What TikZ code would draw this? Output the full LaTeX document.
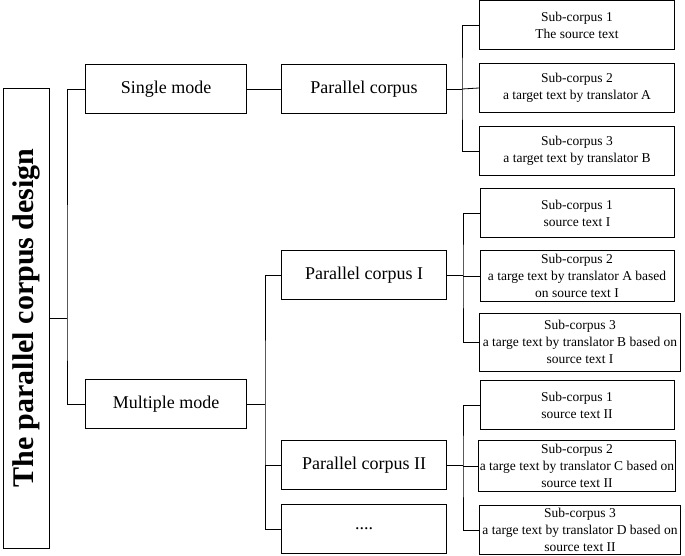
\documentclass[tikz,border=0pt]{standalone}
\usepackage{fontspec}
\setmainfont{Liberation Serif}
\usetikzlibrary{positioning}
\begin{document}
\begin{tikzpicture}[x=1pt,y=-1pt,
    mainbox/.style={draw, thick, minimum width=161pt, minimum height=49pt, font=\fontsize{18}{20}\selectfont},
    subbox/.style={draw, thick, minimum width=#1, minimum height=49pt, align=center, inner sep=1pt, font=\fontsize{13.5}{17}\selectfont},
    link/.style={thick}]
    \useasboundingbox (0,0) rectangle (685,556);

    % Root
    \node[draw, thick, minimum width=460pt, minimum height=46pt, inner sep=1pt, rotate=90, font=\fontsize{30}{32}\bfseries] (root) at (26,318) {The parallel corpus design};

    % Second level
    \node[mainbox] (single) at (166,89) {Single mode};
    \node[mainbox] (multi) at (166,404) {Multiple mode};

    % Third level
    \node[mainbox, minimum width=165pt] (pc) at (364,89) {Parallel corpus};
    \node[mainbox, minimum width=165pt] (pcI) at (364,275) {Parallel corpus I};
    \node[mainbox, minimum width=165pt] (pcII) at (364,465) {Parallel corpus II};
    \node[mainbox, minimum width=165pt] (dots) at (364,529) {....};

    % Sub-corpora
    \node[subbox=195pt] (s1) at (577,25) {Sub-corpus 1\\The source text};
    \node[subbox=195pt] (s2) at (577,88) {Sub-corpus 2\\a target text by translator A};
    \node[subbox=195pt] (s3) at (577,151) {Sub-corpus 3\\a target text by translator B};
    \node[subbox=194pt] (a1) at (577,213) {Sub-corpus 1\\source text I};
    \node[subbox=194pt, minimum height=51pt] (a2) at (577,276) {Sub-corpus 2\\a targe text by translator A based\\on source text I};
    \node[subbox=201pt, minimum height=58pt] (a3) at (580,342) {Sub-corpus 3\\a targe text by translator B based on\\source text I};
    \node[subbox=194pt] (b1) at (577,405) {Sub-corpus 1\\source text II};
    \node[subbox=194pt, minimum height=51pt] (b2) at (577,466) {Sub-corpus 2\\a targe text by translator C based on\\source text II};
    \node[subbox=201pt] (b3) at (580,530) {Sub-corpus 3\\a targe text by translator D based on\\source text II};

    % Connectors
    \coordinate (t0) at (67,318);
    \draw[link] (root.south) -- (t0);
    \draw[link] (single.west) -| (t0) |- (multi.west);
    \draw[link] (single) -- (pc);

    \coordinate (t1) at (265,404);
    \draw[link] (multi.east) -- (t1);
    \draw[link] (pcI.west) -| (t1) |- (dots.west);
    \draw[link] (t1 |- pcII) -- (pcII.west);

    \coordinate (t2) at (462,89);
    \draw[link] (pc.east) -- (t2);
    \draw[link] (s1.west) -| (t2) |- (s3.west);
    \draw[link] (t2) -- (s2.west);

    \coordinate (t3) at (463,275);
    \draw[link] (pcI.east) -- (t3);
    \draw[link] (a1.west) -| (t3) |- (a3.west);
    \draw[link] (t3 |- a2) -- (a2.west);

    \coordinate (t4) at (463,465);
    \draw[link] (pcII.east) -- (t4);
    \draw[link] (b1.west) -| (t4) |- (b3.west);
    \draw[link] (t4 |- b2) -- (b2.west);
\end{tikzpicture}
\end{document}
